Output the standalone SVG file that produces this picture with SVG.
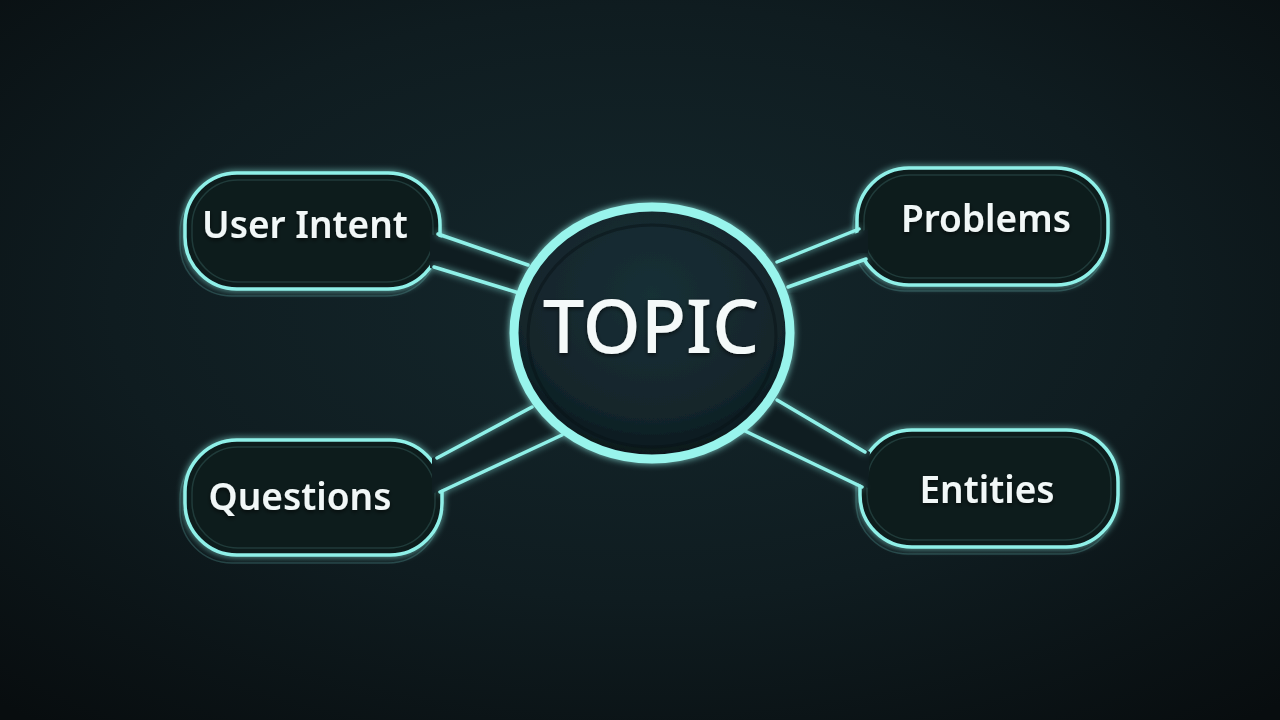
<svg xmlns="http://www.w3.org/2000/svg" width="1280" height="720" viewBox="0 0 1280 720">
  <defs>
    <radialGradient id="bg" cx="0.5" cy="0.42" r="0.75">
      <stop offset="0" stop-color="#14272c"/>
      <stop offset="0.55" stop-color="#0f1c20"/>
      <stop offset="1" stop-color="#080d0f"/>
    </radialGradient>
    <radialGradient id="core" cx="0.5" cy="0.35" r="0.65">
      <stop offset="0" stop-color="#173036"/>
      <stop offset="0.75" stop-color="#12252b"/>
      <stop offset="1" stop-color="#0b171b"/>
    </radialGradient>
    <filter id="glow" x="-20%" y="-20%" width="140%" height="140%">
      <feGaussianBlur in="SourceGraphic" stdDeviation="3.5" result="b"/>
      <feComponentTransfer in="b" result="bd">
        <feFuncA type="linear" slope="0.8"/>
      </feComponentTransfer>
      <feMerge>
        <feMergeNode in="bd"/>
        <feMergeNode in="SourceGraphic"/>
      </feMerge>
    </filter>
    <filter id="tshadow" x="-10%" y="-20%" width="120%" height="150%">
      <feDropShadow dx="0" dy="2" stdDeviation="2" flood-color="#000" flood-opacity="0.6"/>
    </filter>
  </defs>
  <style>
    .pill { fill: #0e1b1f; stroke: #8ff0e8; stroke-width: 3.5; }
    .pill-inner { fill: none; stroke: #6fb8b4; stroke-width: 1.5; opacity: 0.2; }
    .pill-shadow { fill: none; stroke: #5aa3a0; stroke-width: 1.5; opacity: 0.3; }
    .wire { stroke: #8ff0e8; stroke-width: 3.5; stroke-linecap: round; fill: none; }
    .band { fill: #0f1d21; stroke: none; }
    .ring { fill: url(#core); stroke: #98f4ec; stroke-width: 9; }
    .label { font-family: "Noto Sans", "Open Sans", "Liberation Sans", sans-serif; font-weight: 600; font-size: 37px; fill: #f1f7f7; text-anchor: middle; }
    .topic { font-family: "Noto Sans", "Open Sans", "Liberation Sans", sans-serif; font-weight: 500; font-size: 74px; fill: #f4f9f9; text-anchor: middle; }
  </style>

  <rect width="1280" height="720" fill="url(#bg)"/>

  <g id="node-user-intent">
    <rect class="pill-shadow" x="180" y="180" width="258" height="116" rx="52"/>
    <rect class="pill" x="185" y="173" width="255" height="116" rx="52" filter="url(#glow)"/>
    <rect class="pill-inner" x="192" y="180" width="241" height="102" rx="46"/>
    <text class="label" x="305" y="238" filter="url(#tshadow)">User Intent</text>
  </g>

  <g id="node-problems">
    <rect class="pill-shadow" x="853" y="175" width="254" height="116" rx="52"/>
    <rect class="pill" x="857" y="168" width="251" height="117" rx="52" filter="url(#glow)"/>
    <rect class="pill-inner" x="864" y="175" width="237" height="103" rx="46"/>
    <text class="label" x="986" y="232" filter="url(#tshadow)">Problems</text>
  </g>

  <g id="node-questions">
    <rect class="pill-shadow" x="180" y="447" width="260" height="116" rx="52"/>
    <rect class="pill" x="185" y="440" width="257" height="115" rx="52" filter="url(#glow)"/>
    <rect class="pill-inner" x="192" y="447" width="243" height="101" rx="46"/>
    <text class="label" x="300" y="510" filter="url(#tshadow)">Questions</text>
  </g>

  <g id="node-entities">
    <rect class="pill-shadow" x="856" y="437" width="260" height="117" rx="52"/>
    <rect class="pill" x="860" y="430" width="258" height="117" rx="52" filter="url(#glow)"/>
    <rect class="pill-inner" x="867" y="437" width="244" height="103" rx="46"/>
    <text class="label" x="987" y="503" filter="url(#tshadow)">Entities</text>
  </g>

  <g id="connectors">
    <polygon class="band" points="430,234 530,266 521,294 430,268"/>
    <line class="wire" x1="438" y1="234" x2="528" y2="265" filter="url(#glow)"/>
    <line class="wire" x1="434" y1="267" x2="519" y2="293" filter="url(#glow)"/>

    <polygon class="band" points="868,229 776,262 787,289 868,259"/>
    <line class="wire" x1="859" y1="229" x2="777" y2="262" filter="url(#glow)"/>
    <line class="wire" x1="866" y1="259" x2="788" y2="287" filter="url(#glow)"/>

    <polygon class="band" points="432,458 533,405 564,436 432,494"/>
    <line class="wire" x1="437" y1="458" x2="532" y2="407" filter="url(#glow)"/>
    <line class="wire" x1="440" y1="492" x2="562" y2="435" filter="url(#glow)"/>

    <polygon class="band" points="776,398 870,452 868,488 742,431"/>
    <line class="wire" x1="777" y1="400" x2="865" y2="452" filter="url(#glow)"/>
    <line class="wire" x1="743" y1="430" x2="862" y2="487" filter="url(#glow)"/>
  </g>

  <g id="node-topic">
    <ellipse class="ring" cx="652" cy="333" rx="138" ry="126" filter="url(#glow)"/>
    <ellipse cx="652" cy="336" rx="124" ry="111" fill="none" stroke="#081216" stroke-width="3" opacity="0.5"/>
    <text class="topic" x="651" y="353" filter="url(#tshadow)">TOPIC</text>
  </g>
</svg>
